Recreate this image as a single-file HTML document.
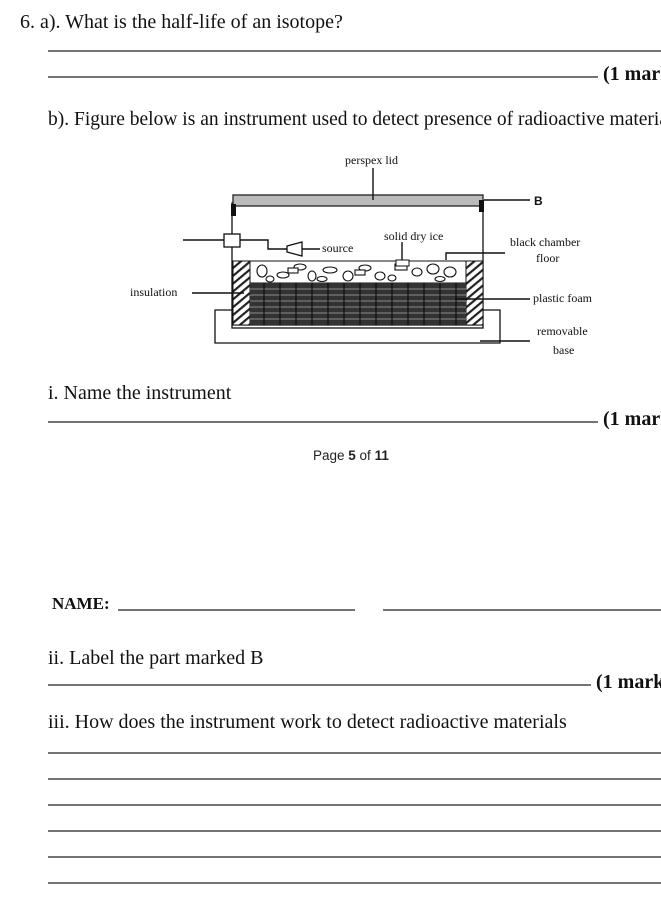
<!DOCTYPE html>
<html><head><meta charset="utf-8"><style>
html,body{margin:0;padding:0;background:#fff;overflow:hidden;}
svg{display:block;}
.t{font-family:"Liberation Serif",serif;fill:#111;}
.s{font-family:"Liberation Serif",serif;fill:#111;font-size:12px;}
</style></head><body>
<svg width="661" height="900" viewBox="0 0 661 900" xmlns="http://www.w3.org/2000/svg">
<defs>
<pattern id="hatch" width="6" height="6" patternUnits="userSpaceOnUse" patternTransform="rotate(-40)">
<rect width="6" height="6" fill="#fff"/><rect width="6" height="2.2" fill="#222"/>
</pattern>
</defs>
<g class="t" font-size="20">
<text x="20" y="28">6.  a). What is the half-life of an isotope?</text>
<text x="603" y="80" font-weight="bold">(1 mark)</text>
<text x="48" y="125" font-size="19.5">b). Figure below is an instrument used to detect presence of radioactive materials</text>
<text x="48" y="399">i.  Name the instrument</text>
<text x="603" y="425" font-weight="bold">(1 mark)</text>
<text x="52" y="609" font-size="17" font-weight="bold">NAME:</text>
<text x="48" y="664">ii.  Label the part marked B</text>
<text x="596" y="688" font-weight="bold">(1 mark)</text>
<text x="48" y="728">iii. How does the instrument work to detect radioactive materials</text>
</g>
<text x="313" y="460" font-family="Liberation Sans,sans-serif" font-size="13.5" fill="#222">Page <tspan font-weight="bold">5</tspan> of <tspan font-weight="bold">11</tspan></text>
<g stroke="#222" stroke-width="1.3">
<line x1="48" y1="51" x2="661" y2="51"/>
<line x1="48" y1="77" x2="598" y2="77"/>
<line x1="48" y1="422" x2="598" y2="422"/>
<line x1="118" y1="610" x2="355" y2="610"/>
<line x1="383" y1="610" x2="661" y2="610"/>
<line x1="48" y1="685" x2="591" y2="685"/>
<line x1="48" y1="753" x2="661" y2="753"/>
<line x1="48" y1="779" x2="661" y2="779"/>
<line x1="48" y1="805" x2="661" y2="805"/>
<line x1="48" y1="831" x2="661" y2="831"/>
<line x1="48" y1="857" x2="661" y2="857"/>
<line x1="48" y1="883" x2="661" y2="883"/>
</g>
<g stroke="#111" stroke-width="1.3" fill="none">
<polyline points="233,310 215,310 215,343 500,343 500,310 483,310"/>
<rect x="232" y="203" width="251" height="125"/>
<line x1="232" y1="325" x2="483" y2="325"/>
</g>
<rect x="233" y="195" width="250" height="11" fill="#bbb" stroke="#222" stroke-width="1.3"/>
<rect x="231" y="204" width="5" height="12" fill="#111"/>
<rect x="479" y="200" width="5" height="12" fill="#111"/>
<rect x="233" y="261" width="17" height="64" fill="url(#hatch)" stroke="#111"/>
<rect x="466" y="261" width="17" height="64" fill="url(#hatch)" stroke="#111"/>
<rect x="250" y="261" width="216" height="22" fill="#fff" stroke="#111"/>
<g fill="#fff" stroke="#111" stroke-width="1.1">
<ellipse cx="262" cy="271" rx="5" ry="6"/><ellipse cx="283" cy="275" rx="6" ry="3"/>
<ellipse cx="300" cy="267" rx="6" ry="3"/><ellipse cx="312" cy="276" rx="4" ry="5"/>
<ellipse cx="330" cy="270" rx="7" ry="3"/><ellipse cx="348" cy="276" rx="5" ry="5"/>
<ellipse cx="365" cy="268" rx="6" ry="3"/><ellipse cx="380" cy="276" rx="5" ry="4"/>
<rect x="395" y="264" width="12" height="6"/><ellipse cx="417" cy="272" rx="5" ry="4"/>
<ellipse cx="433" cy="269" rx="6" ry="5"/><ellipse cx="450" cy="272" rx="6" ry="5"/>
<rect x="288" y="268" width="10" height="5"/><rect x="355" y="270" width="10" height="5"/>
<ellipse cx="270" cy="279" rx="4" ry="3"/><ellipse cx="322" cy="279" rx="5" ry="2.5"/>
<ellipse cx="392" cy="278" rx="4" ry="3"/><ellipse cx="440" cy="279" rx="5" ry="2.5"/>
</g>
<rect x="250" y="283" width="216" height="42" fill="#333"/>
<g stroke="#aaa" stroke-width="0.8">
<line x1="250" y1="289" x2="466" y2="289"/><line x1="250" y1="295" x2="466" y2="295"/>
<line x1="250" y1="301" x2="466" y2="301"/><line x1="250" y1="307" x2="466" y2="307"/>
<line x1="250" y1="313" x2="466" y2="313"/><line x1="250" y1="319" x2="466" y2="319"/>
</g>
<g stroke="#000" stroke-width="1">
<line x1="264" y1="283" x2="264" y2="325"/><line x1="280" y1="283" x2="280" y2="325"/>
<line x1="296" y1="283" x2="296" y2="325"/><line x1="312" y1="283" x2="312" y2="325"/>
<line x1="328" y1="283" x2="328" y2="325"/><line x1="344" y1="283" x2="344" y2="325"/>
<line x1="360" y1="283" x2="360" y2="325"/><line x1="376" y1="283" x2="376" y2="325"/>
<line x1="392" y1="283" x2="392" y2="325"/><line x1="408" y1="283" x2="408" y2="325"/>
<line x1="424" y1="283" x2="424" y2="325"/><line x1="440" y1="283" x2="440" y2="325"/>
<line x1="456" y1="283" x2="456" y2="325"/>
</g>
<g stroke="#111" stroke-width="1.4" fill="none">
<line x1="183" y1="240" x2="224" y2="240"/>
<polyline points="240,240 268,240 268,249 287,249"/>
<line x1="302" y1="249" x2="320" y2="249"/>
<line x1="373" y1="168" x2="373" y2="200"/>
<line x1="484" y1="200" x2="530" y2="200"/>
<line x1="402" y1="242" x2="402" y2="260"/>
<polyline points="446,260 446,253 505,253"/>
<line x1="192" y1="293" x2="244" y2="293"/>
<line x1="455" y1="299" x2="530" y2="299"/>
<line x1="480" y1="341" x2="530" y2="341"/>
</g>
<rect x="224" y="234" width="16" height="13" fill="#fff" stroke="#111" stroke-width="1.3"/>
<polygon points="287,246 302,242 302,256 287,252" fill="#fff" stroke="#111" stroke-width="1.3"/>
<rect x="396" y="260" width="13" height="6" fill="#fff" stroke="#111"/>
<text class="s" x="345" y="164">perspex lid</text>
<text x="534" y="205" font-family="Liberation Sans,sans-serif" font-weight="bold" font-size="12" fill="#111">B</text>
<text class="s" x="322" y="252">source</text>
<text class="s" x="384" y="240">solid dry ice</text>
<text class="s" x="510" y="246">black chamber</text>
<text class="s" x="536" y="262">floor</text>
<text class="s" x="130" y="296">insulation</text>
<text class="s" x="533" y="302">plastic foam</text>
<text class="s" x="537" y="335">removable</text>
<text class="s" x="553" y="354">base</text>
</svg>
</body></html>
